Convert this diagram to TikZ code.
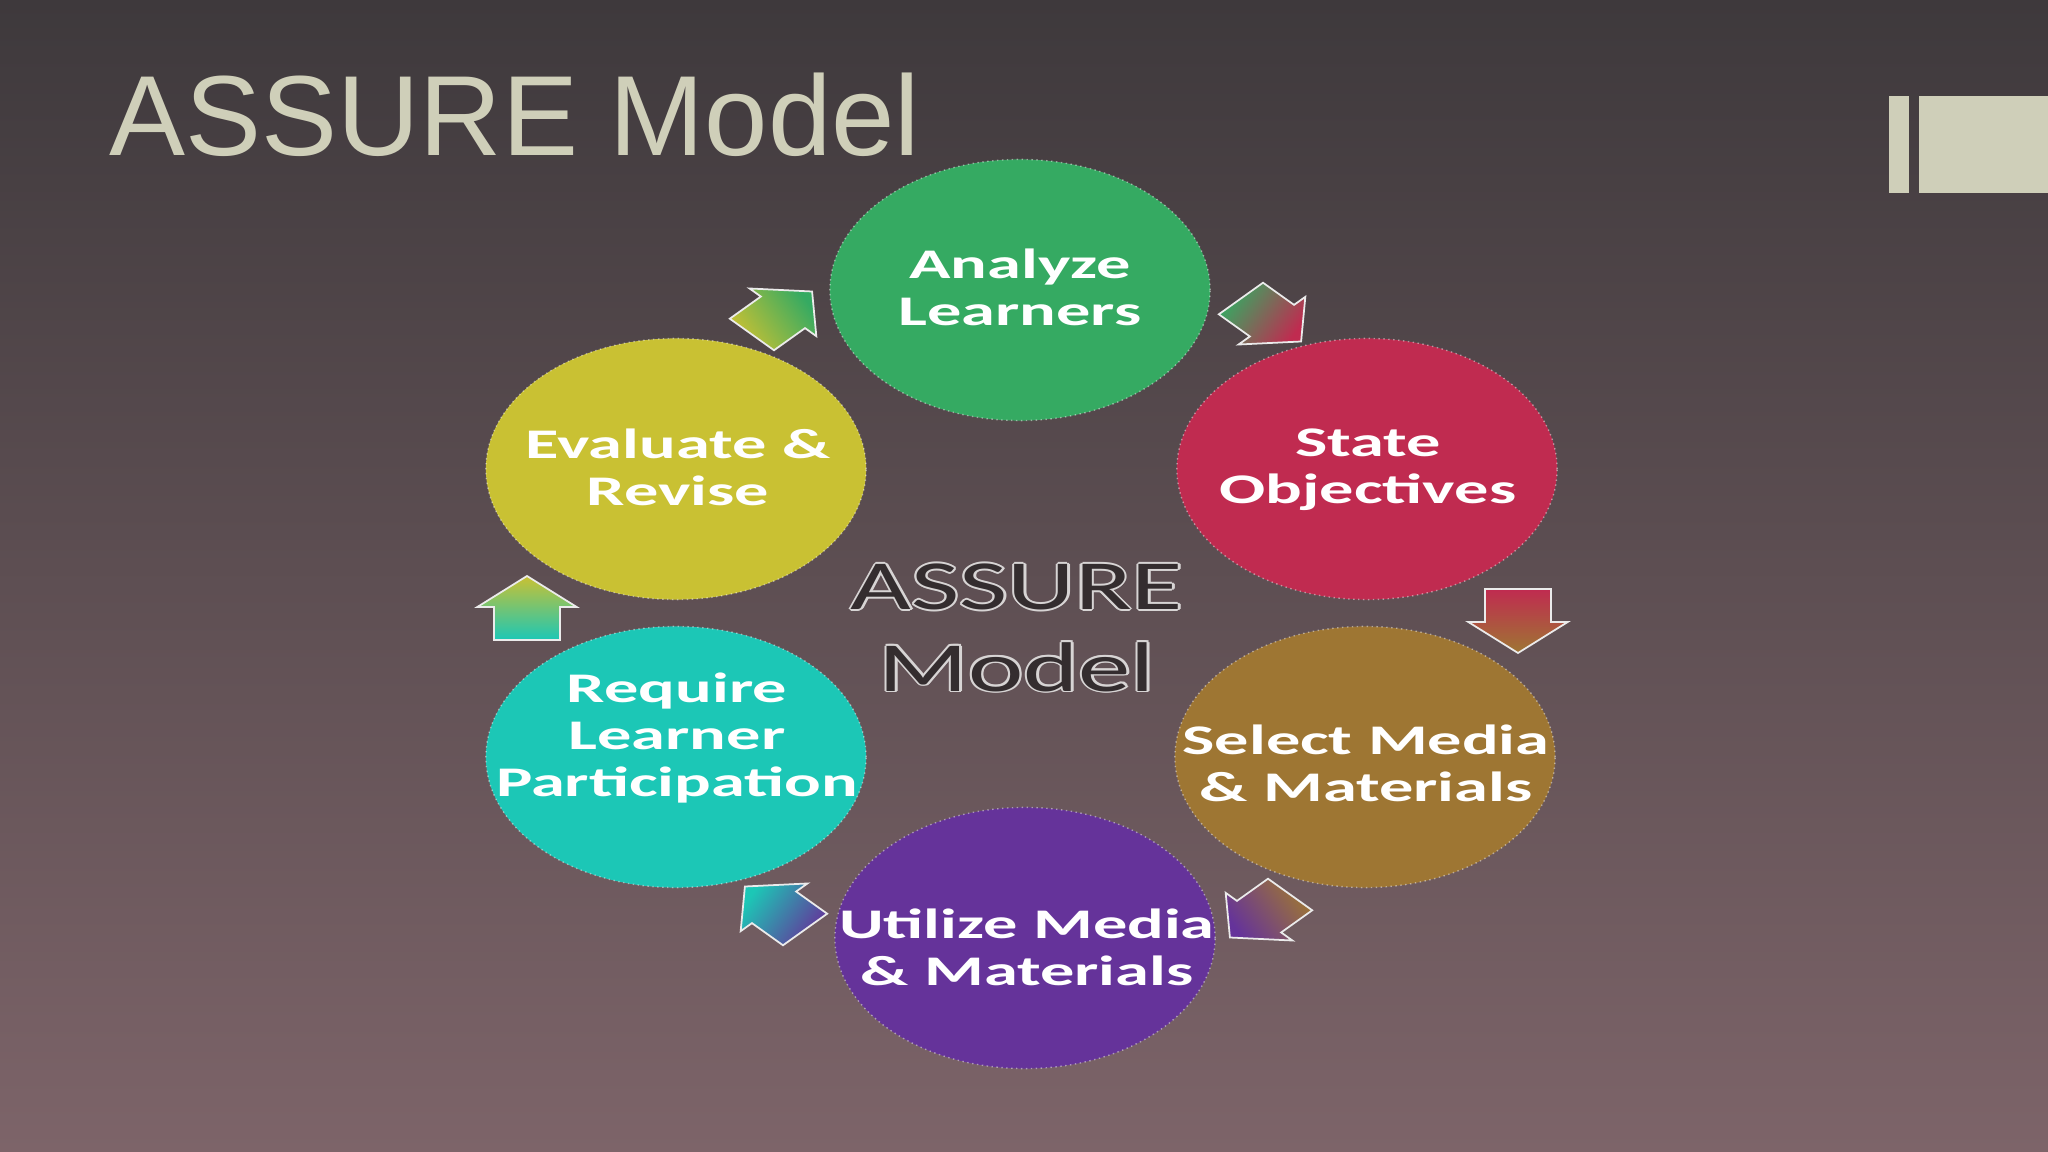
\documentclass[tikz,border=0pt]{standalone}
\usepackage{fontspec}
\usepackage{graphicx}
\usetikzlibrary{shapes.geometric}
\newfontfamily\titlefont{Liberation Sans}
\newfontfamily\cellfont{Carlito}

\definecolor{bgtop}{RGB}{62,57,60}
\definecolor{bgmid}{RGB}{75,65,68}
\definecolor{bgbot}{RGB}{125,100,105}
\definecolor{titlec}{RGB}{207,207,185}
\definecolor{cgreen}{RGB}{53,170,98}
\definecolor{cred}{RGB}{192,43,80}
\definecolor{cbrown}{RGB}{158,118,51}
\definecolor{cpurple}{RGB}{101,51,154}
\definecolor{cteal}{RGB}{28,199,182}
\definecolor{cyellow}{RGB}{201,193,51}
\definecolor{olc}{RGB}{215,212,212}
\definecolor{ctrfill}{RGB}{52,45,47}

\newcommand\stretchtext[2]{\scalebox{#1}[1]{\begin{tabular}{@{}c@{}}#2\end{tabular}}}
\newcommand\outlinedword[1]{\leavevmode
  \rlap{\kern-0.45pt\textcolor{olc}{#1}}%
  \rlap{\kern0.45pt\textcolor{olc}{#1}}%
  \rlap{\raisebox{0.45pt}{\textcolor{olc}{#1}}}%
  \rlap{\raisebox{-0.45pt}{\textcolor{olc}{#1}}}%
  \rlap{\kern-0.32pt\raisebox{0.32pt}{\textcolor{olc}{#1}}}%
  \rlap{\kern0.32pt\raisebox{0.32pt}{\textcolor{olc}{#1}}}%
  \rlap{\kern-0.32pt\raisebox{-0.32pt}{\textcolor{olc}{#1}}}%
  \rlap{\kern0.32pt\raisebox{-0.32pt}{\textcolor{olc}{#1}}}%
  \textcolor{ctrfill}{#1}}

% #1,#2 centre, #3 rotation, #4 tail colour, #5 head colour, #6 shading angle, #7 size
\newcommand\blockarrow[7]{%
  \begin{scope}[shift={(#1,#2)}, xscale=1.4, rotate=#3, scale=#7]
    \shade[top color=#5, bottom color=#4, shading angle=#6, arrowedge]
      (0,-32) -- (35.5,-1) -- (23.5,-1) -- (23.5,32) -- (-23.5,32)
      -- (-23.5,-1) -- (-35.5,-1) -- cycle;
  \end{scope}}

\tikzset{
  stagebox/.style={ellipse, minimum width=3.8cm, minimum height=2.61cm,
    inner sep=0pt, draw=white, draw opacity=0.45, line width=0.4pt, densely dotted},
  stagetext/.style={text=white, inner sep=0pt, align=center,
    font=\cellfont\bfseries\fontsize{12}{13.4}\selectfont},
  arrowedge/.style={draw=white!92!black, line width=0.5pt, line join=miter},
}

\begin{document}
\begin{tikzpicture}[x=0.01cm, y=-0.01cm]
  \useasboundingbox (0,0) rectangle (2048,1152);
  \shade[top color=bgtop, middle color=bgmid, bottom color=bgbot] (0,0) rectangle (2048,1152);

  % title
  \node[anchor=base west, inner sep=0pt, text=titlec,
    font=\titlefont\fontsize{32.4}{38}\selectfont] (title) at (109,156) {ASSURE Model};

  % top-right decoration
  \fill[titlec] (1889,96) rectangle (1909,193);
  \fill[titlec] (1919,96) rectangle (2048,193);

  % stages
  \node[stagebox, fill=cgreen]  (an) at (1020,290) {};
  \node[stagebox, fill=cred]    (so) at (1367,469) {};
  \node[stagebox, fill=cbrown]  (sm) at (1365,757) {};
  \node[stagebox, fill=cpurple] (um) at (1025,938) {};
  \node[stagebox, fill=cteal]   (rl) at (676,757) {};
  \node[stagebox, fill=cyellow] (ev) at (676,469) {};

  \node[stagetext] (ant) at (1020,293) {\stretchtext{1.62}{Analyze\\Learners}};
  \node[stagetext] (sot) at (1368,471) {\stretchtext{1.62}{State\\Objectives}};
  \node[stagetext] (smt) at (1366,769) {\stretchtext{1.62}{Select Media\\\& Materials}};
  \node[stagetext] (umt) at (1027,953) {\stretchtext{1.62}{Utilize Media\\\& Materials}};
  \node[stagetext] (rlt) at (677,740) {\stretchtext{1.62}{Require\\Learner\\Participation}};
  \node[stagetext] (evt) at (678,473) {\stretchtext{1.62}{Evaluate \&\\Revise}};

  % centre title
  \node[inner sep=0pt, align=center,
    font=\cellfont\fontsize{20}{23.2}\selectfont] (ctr) at (1017,634)
    {\stretchtext{1.49}{\outlinedword{ASSURE}\\\outlinedword{Model}}};

  % arrows between stages
  \blockarrow{782}{313}{-45}{cyellow}{cgreen}{-54.5}{0.95}
  \blockarrow{1271}{320}{-135}{cgreen}{cred}{-125.5}{0.95}
  \blockarrow{1518}{621}{180}{cred}{cbrown}{180}{1}
  \blockarrow{1260}{916}{135}{cbrown}{cpurple}{125.5}{0.95}
  \blockarrow{775}{908}{45}{cpurple}{cteal}{54.5}{0.95}
  \blockarrow{527}{608}{0}{cteal}{cyellow}{0}{1}
\end{tikzpicture}
\end{document}
